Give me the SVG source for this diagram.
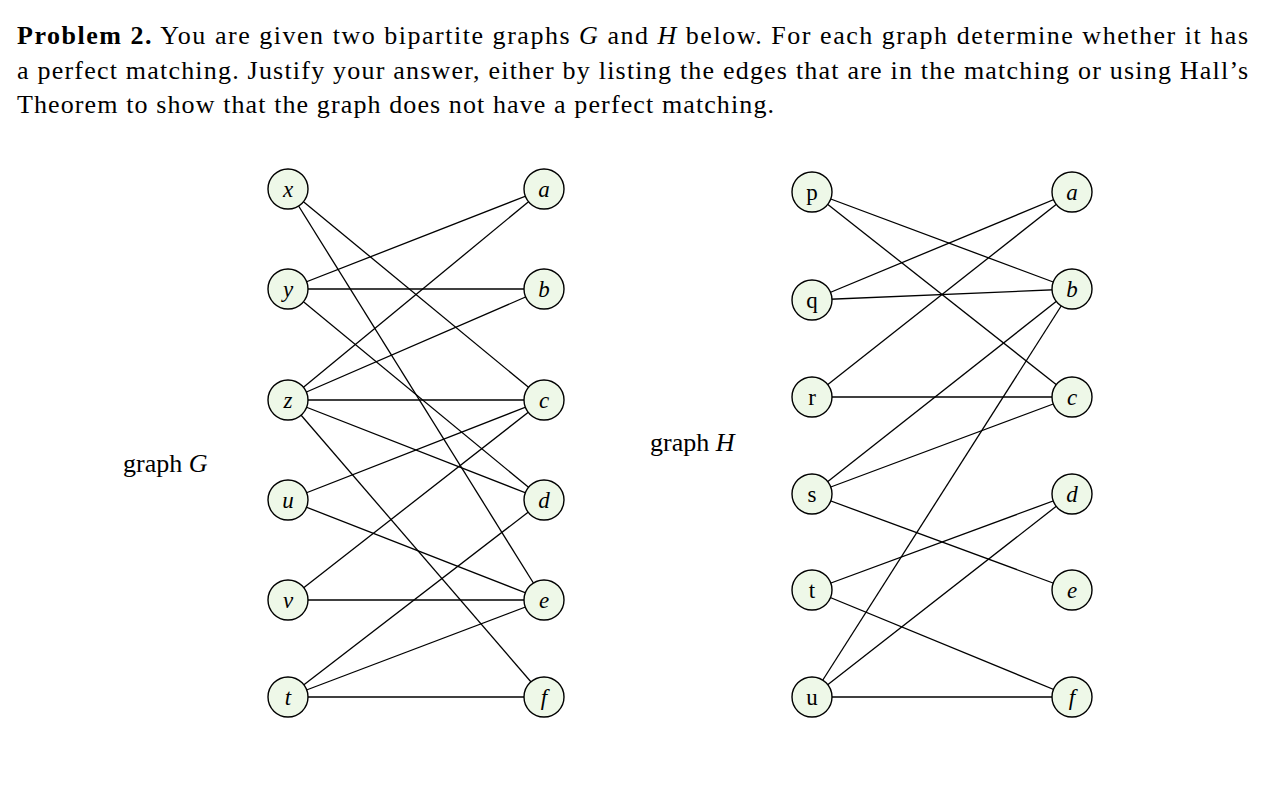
<svg xmlns="http://www.w3.org/2000/svg" width="1266" height="800" viewBox="0 0 1266 800">
<style>
.t{font-family:"Liberation Serif",serif;font-size:26px;fill:#000}
.n circle{fill:#eef8e8;stroke:#000;stroke-width:1.4}
.n text{font-family:"Liberation Serif",serif;font-size:23px;text-anchor:middle;dominant-baseline:central}
.i{font-style:italic}
#edges line{stroke:#000;stroke-width:1.3}
</style>
<rect width="1266" height="800" fill="#fff"/>
<text class="t" x="17" y="44" textLength="1231" lengthAdjust="spacing"><tspan font-weight="bold">Problem 2.</tspan> You are given two bipartite graphs <tspan class="i">G</tspan> and <tspan class="i">H</tspan> below. For each graph determine whether it has</text>
<text class="t" x="17" y="79" textLength="1231" lengthAdjust="spacing">a perfect matching. Justify your answer, either by listing the edges that are in the matching or using Hall’s</text>
<text class="t" x="17" y="113" textLength="757" lengthAdjust="spacing">Theorem to show that the graph does not have a perfect matching.</text>
<text class="t" x="123" y="472">graph <tspan class="i">G</tspan></text>
<text class="t" x="650" y="451">graph <tspan class="i">H</tspan></text>
<g id="edges">
<line x1="288" y1="189" x2="544" y2="400"/><line x1="288" y1="189" x2="544" y2="600"/>
<line x1="288" y1="289" x2="544" y2="189"/><line x1="288" y1="289" x2="544" y2="289"/><line x1="288" y1="289" x2="544" y2="500"/>
<line x1="288" y1="400" x2="544" y2="189"/><line x1="288" y1="400" x2="544" y2="289"/><line x1="288" y1="400" x2="544" y2="400"/><line x1="288" y1="400" x2="544" y2="500"/><line x1="288" y1="400" x2="544" y2="697"/>
<line x1="288" y1="500" x2="544" y2="400"/><line x1="288" y1="500" x2="544" y2="600"/>
<line x1="288" y1="600" x2="544" y2="400"/><line x1="288" y1="600" x2="544" y2="600"/>
<line x1="288" y1="697" x2="544" y2="500"/><line x1="288" y1="697" x2="544" y2="600"/><line x1="288" y1="697" x2="544" y2="697"/>
<line x1="812" y1="192" x2="1072" y2="289"/><line x1="812" y1="192" x2="1072" y2="397"/>
<line x1="812" y1="300" x2="1072" y2="192"/><line x1="812" y1="300" x2="1072" y2="289"/>
<line x1="812" y1="397" x2="1072" y2="192"/><line x1="812" y1="397" x2="1072" y2="397"/>
<line x1="812" y1="494" x2="1072" y2="289"/><line x1="812" y1="494" x2="1072" y2="397"/><line x1="812" y1="494" x2="1072" y2="590"/>
<line x1="812" y1="590" x2="1072" y2="494"/><line x1="812" y1="590" x2="1072" y2="697"/>
<line x1="812" y1="697" x2="1072" y2="289"/><line x1="812" y1="697" x2="1072" y2="494"/><line x1="812" y1="697" x2="1072" y2="697"/>
</g>
<g id="G-x" class="n"><circle cx="288" cy="189" r="20"/><text class="i" x="288" y="189">x</text></g>
<g id="G-y" class="n"><circle cx="288" cy="289" r="20"/><text class="i" x="288" y="289">y</text></g>
<g id="G-z" class="n"><circle cx="288" cy="400" r="20"/><text class="i" x="288" y="400">z</text></g>
<g id="G-u" class="n"><circle cx="288" cy="500" r="20"/><text class="i" x="288" y="500">u</text></g>
<g id="G-v" class="n"><circle cx="288" cy="600" r="20"/><text class="i" x="288" y="600">v</text></g>
<g id="G-t" class="n"><circle cx="288" cy="697" r="20"/><text class="i" x="288" y="697">t</text></g>
<g id="G-a" class="n"><circle cx="544" cy="189" r="20"/><text class="i" x="544" y="189">a</text></g>
<g id="G-b" class="n"><circle cx="544" cy="289" r="20"/><text class="i" x="544" y="289">b</text></g>
<g id="G-c" class="n"><circle cx="544" cy="400" r="20"/><text class="i" x="544" y="400">c</text></g>
<g id="G-d" class="n"><circle cx="544" cy="500" r="20"/><text class="i" x="544" y="500">d</text></g>
<g id="G-e" class="n"><circle cx="544" cy="600" r="20"/><text class="i" x="544" y="600">e</text></g>
<g id="G-f" class="n"><circle cx="544" cy="697" r="20"/><text class="i" x="544" y="697">f</text></g>
<g id="H-p" class="n"><circle cx="812" cy="192" r="20"/><text x="812" y="192">p</text></g>
<g id="H-q" class="n"><circle cx="812" cy="300" r="20"/><text x="812" y="300">q</text></g>
<g id="H-r" class="n"><circle cx="812" cy="397" r="20"/><text x="812" y="397">r</text></g>
<g id="H-s" class="n"><circle cx="812" cy="494" r="20"/><text x="812" y="494">s</text></g>
<g id="H-t" class="n"><circle cx="812" cy="590" r="20"/><text x="812" y="590">t</text></g>
<g id="H-u" class="n"><circle cx="812" cy="697" r="20"/><text x="812" y="697">u</text></g>
<g id="H-a" class="n"><circle cx="1072" cy="192" r="20"/><text class="i" x="1072" y="192">a</text></g>
<g id="H-b" class="n"><circle cx="1072" cy="289" r="20"/><text class="i" x="1072" y="289">b</text></g>
<g id="H-c" class="n"><circle cx="1072" cy="397" r="20"/><text class="i" x="1072" y="397">c</text></g>
<g id="H-d" class="n"><circle cx="1072" cy="494" r="20"/><text class="i" x="1072" y="494">d</text></g>
<g id="H-e" class="n"><circle cx="1072" cy="590" r="20"/><text class="i" x="1072" y="590">e</text></g>
<g id="H-f" class="n"><circle cx="1072" cy="697" r="20"/><text class="i" x="1072" y="697">f</text></g>
</svg>
